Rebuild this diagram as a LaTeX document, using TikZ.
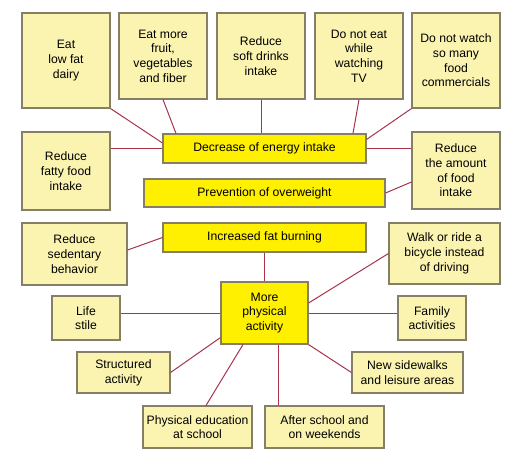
\documentclass[tikz,border=0pt]{standalone}
\usepackage{fontspec}
\setmainfont{Liberation Sans}
\usepackage{xcolor}
\usepackage{tikz}
\usetikzlibrary{arrows.meta}
\definecolor{paleyellow}{HTML}{FBF4B0}
\definecolor{brightyellow}{HTML}{FFF000}
\definecolor{boxgray}{HTML}{857F68}
\definecolor{linkred}{HTML}{A8344C}

\begin{document}
\begin{tikzpicture}[x=1pt,y=-1pt,thick,
	leaf node/.style={rectangle,draw=boxgray,line width=1.1pt,fill=paleyellow,align=center,inner sep=0pt,font=\fontsize{12.2}{14.7}\selectfont},
	key node/.style={leaf node,fill=brightyellow}]
		\useasboundingbox (0,0) rectangle (520,467);
		
		\node[leaf node,minimum width=88,minimum height=95] (dairy) at (66,60.5) {Eat\\low fat\\dairy};
		\node[leaf node,minimum width=88,minimum height=86] (fruit) at (163,56) {Eat more\\fruit,\\vegetables\\and fiber};
		\node[leaf node,minimum width=88,minimum height=86] (drinks) at (261,56) {Reduce\\soft drinks\\intake};
		\node[leaf node,minimum width=88,minimum height=86] (tv) at (359,56) {Do not eat\\while\\watching\\TV};
		\node[leaf node,minimum width=88,minimum height=95] (ads) at (456,60.5) {Do not watch\\so many\\food\\commercials};
		\node[leaf node,minimum width=88,minimum height=78] (fatty) at (66,171) {Reduce\\fatty food\\intake};
		\node[leaf node,minimum width=88,minimum height=77] (amount) at (456,170.5) {Reduce\\the amount\\of food\\intake};
		\node[key node,minimum width=203,minimum height=29] (energy) at (264.5,148.5) {Decrease of energy intake};
		\node[key node,minimum width=241,minimum height=28] (prevent) at (264.5,193) {Prevention of overweight};
		\node[key node,minimum width=203,minimum height=29] (burning) at (264.5,237.5) {Increased fat burning};
		\node[leaf node,minimum width=105,minimum height=62] (sedentary) at (74.5,254) {Reduce\\sedentary\\behavior};
		\node[leaf node,minimum width=111,minimum height=61] (walk) at (444.5,253.5) {Walk or ride a\\bicycle instead\\of driving};
		\node[key node,minimum width=87,minimum height=62] (activity) at (264.5,313) {More\\physical\\activity};
		\node[leaf node,minimum width=68,minimum height=44] (life) at (86,318) {Life\\stile};
		\node[leaf node,minimum width=68,minimum height=44] (family) at (432,318) {Family\\activities};
		\node[leaf node,minimum width=93,minimum height=41] (structured) at (123.5,372.5) {Structured\\activity};
		\node[leaf node,minimum width=111,minimum height=41] (sidewalks) at (407.5,372.5) {New sidewalks\\and leisure areas};
		\node[leaf node,minimum width=109,minimum height=42] (school) at (197.5,427) {Physical education\\at school};
		\node[leaf node,minimum width=119,minimum height=42] (weekends) at (324.5,427) {After school and\\on weekends};
		
		\path[draw=linkred,line width=1pt]
		(dairy.south east) edge ([yshift=5.5pt]energy.west)
		(fruit.south) edge ([xshift=-88.5pt]energy.north)
		(drinks.south) edge (drinks.south |- energy.north)
		(tv.south) edge ([xshift=88.5pt]energy.north)
		(ads.south west) edge ([yshift=-6pt]energy.north east)
		(energy.west) edge (energy.west -| fatty.east)
		(energy.east) edge (energy.east -| amount.west)
		(prevent.east) edge ([yshift=-11.5pt]amount.west)
		([yshift=4pt]sedentary.east) edge (burning.west)
		(burning.south) edge (activity.north)
		(activity.west) edge (activity.west -| life.east)
		(structured.east) edge ([yshift=7pt]activity.south west)
		([xshift=8.5pt]school.north) edge ([xshift=-21.5pt]activity.south)
		(walk.west) edge ([yshift=10pt]activity.east)
		(activity.east) edge (activity.east -| family.west)
		(sidewalks.west) edge (activity.south east)
		([xshift=-46.5pt]weekends.north) edge ([xshift=13.5pt]activity.south);
	\end{tikzpicture}
\end{document}
